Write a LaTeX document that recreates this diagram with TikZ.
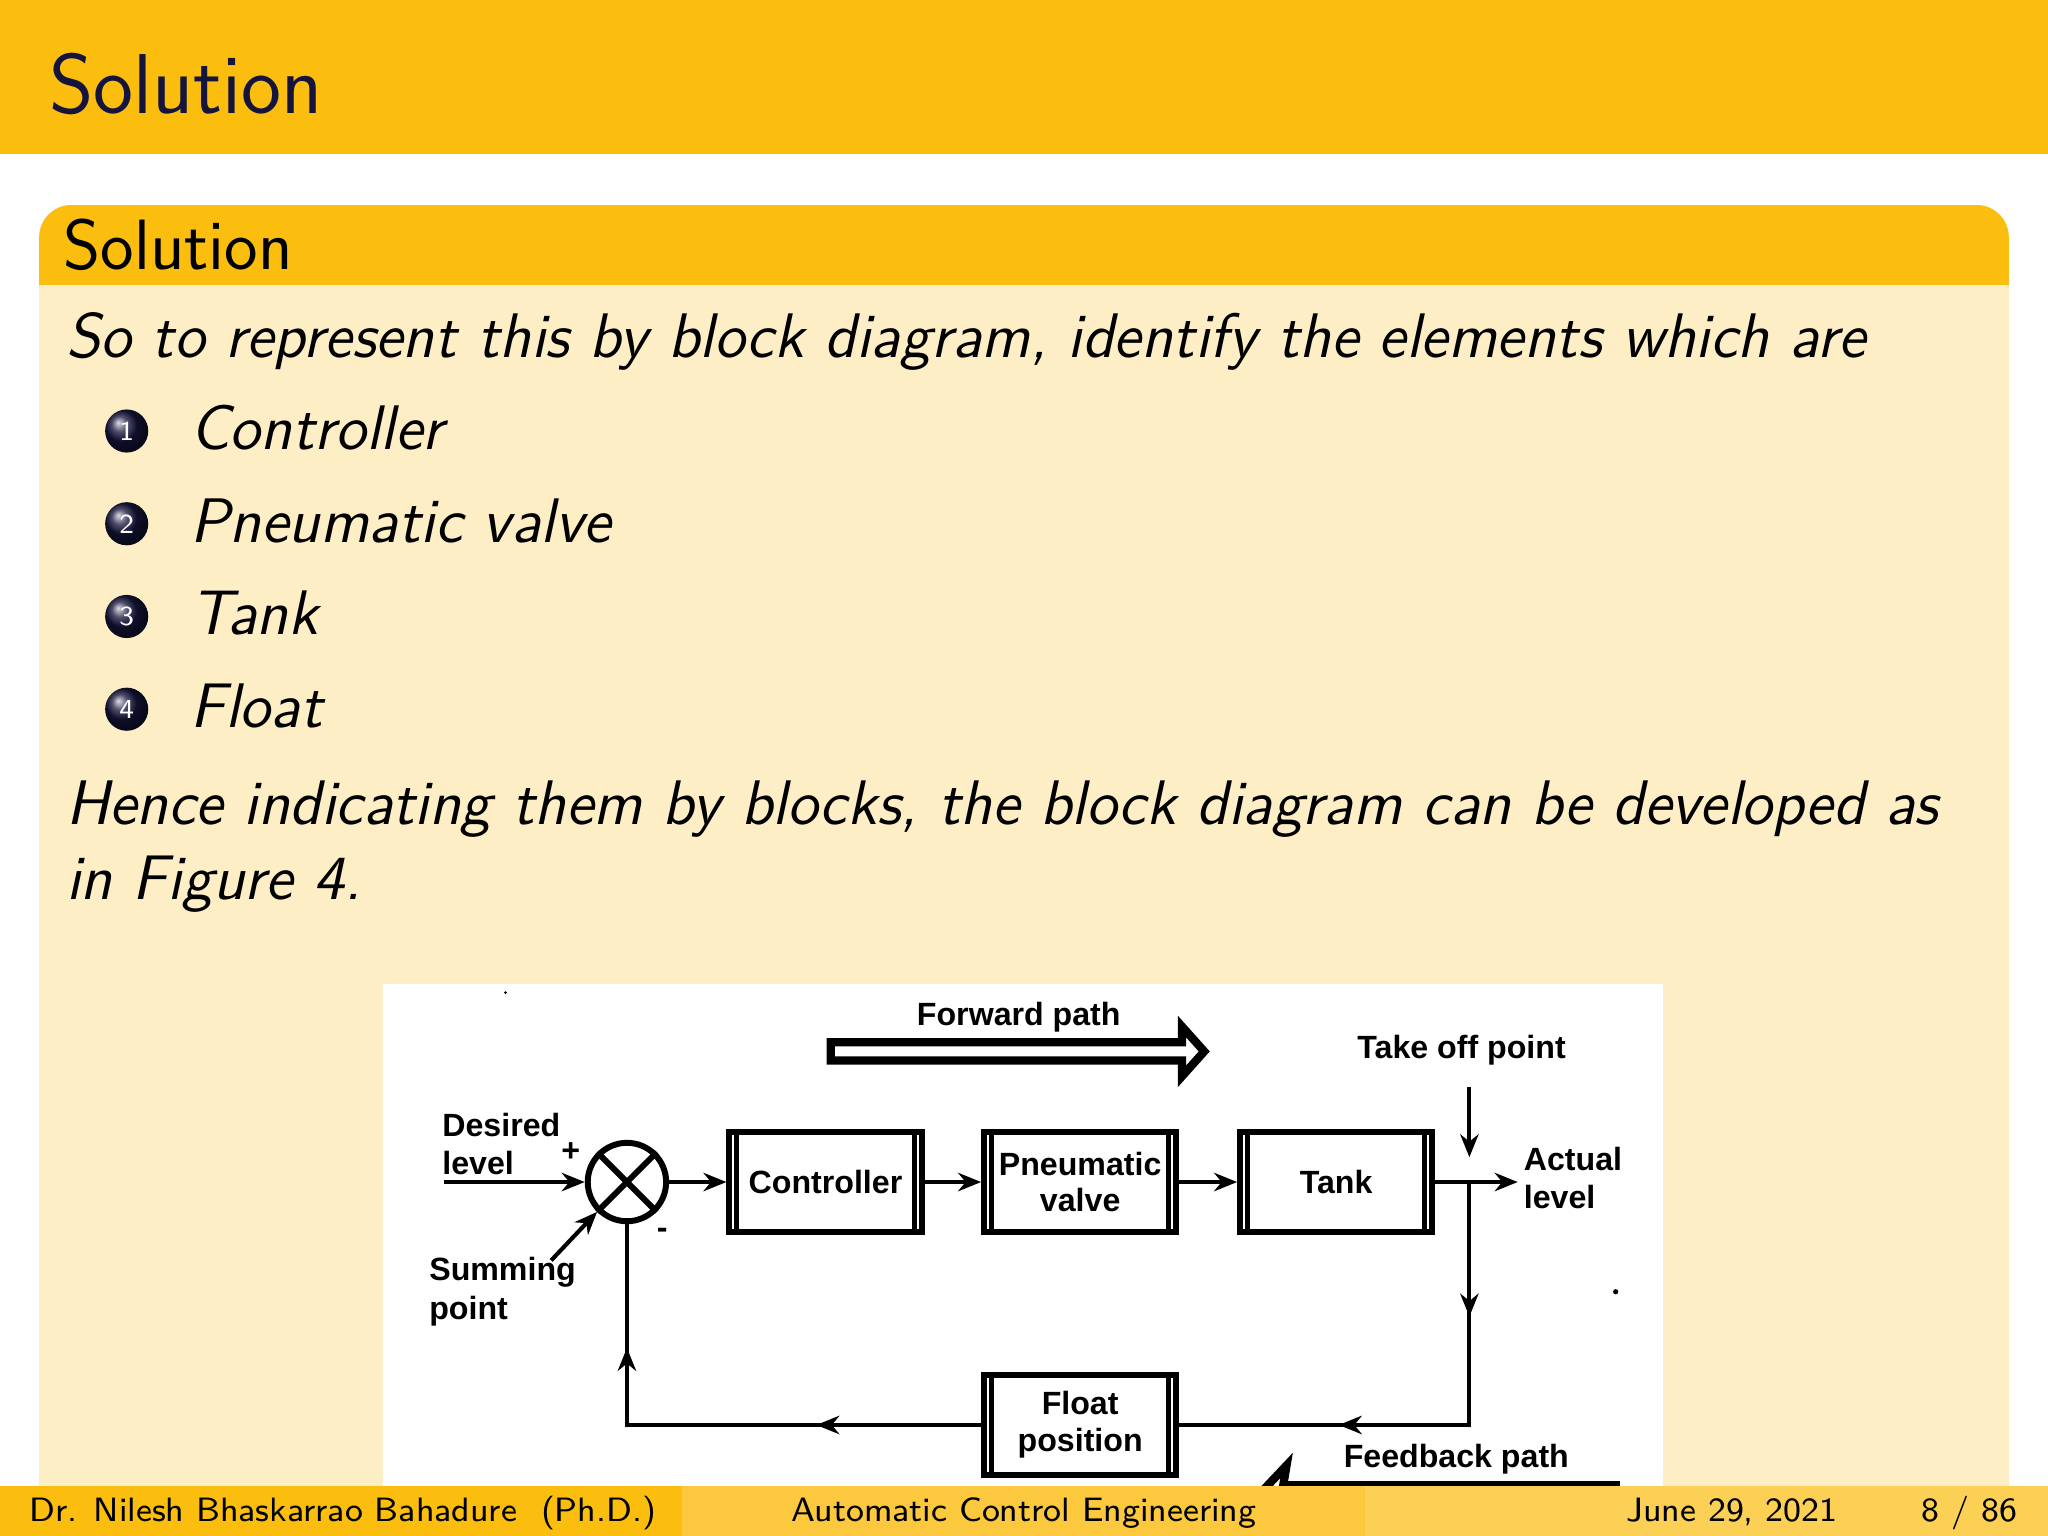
\documentclass[tikz,border=0pt]{standalone}
\usepackage{fontspec}
\newfontfamily\arial{Liberation Sans}
\usetikzlibrary{arrows.meta,shapes.geometric}
\definecolor{hdr}{RGB}{251,190,14}
\definecolor{bodyc}{RGB}{253,238,198}
\definecolor{footm}{RGB}{252,200,62}
\definecolor{footr}{RGB}{252,207,85}
\definecolor{navy}{RGB}{20,20,60}
\tikzset{
 blk/.style={draw,line width=1.3pt,minimum width=1.47cm,minimum height=0.77cm,inner sep=0pt,font=\arial\bfseries\fontsize{7}{8}\selectfont,align=center},
 lbl/.style={font=\arial\bfseries\fontsize{7}{8.4}\selectfont,align=left,inner sep=0pt},
 ln/.style={line width=0.9pt},
 arr/.style={ln,-{Stealth[length=5pt,width=4pt]}},
 bul/.style={circle,ball color=navy,minimum size=0.33cm,inner sep=0pt,text=white,font=\sffamily\fontsize{6}{6}\selectfont},
 itm/.style={anchor=base west,font=\sffamily\itshape\fontsize{13.7}{13.7}\selectfont,inner sep=0pt},
 ft/.style={font=\sffamily\fontsize{7.35}{7.35}\selectfont,inner sep=0pt}
}
\begin{document}
\begin{tikzpicture}[x=0.01cm,y=-0.01cm]
\useasboundingbox (0,0) rectangle (1568,1176);
\fill[white] (0,0) rectangle (1568,1176);
\fill[hdr] (0,0) rectangle (1568,118);
\node[anchor=base west,inner sep=0pt,font=\sffamily\fontsize{18.5}{18.5}\selectfont,text=navy] (title) at (37,87) {Solution};
% block
\fill[bodyc,rounded corners=7] (30,157) rectangle (1538,1200);
\fill[hdr,rounded corners=7] (30,157) rectangle (1538,230);
\fill[hdr] (30,200) rectangle (1538,218);
\fill[bodyc] (30,218) rectangle (1538,240);
\node[anchor=base west,inner sep=0pt,font=\sffamily\fontsize{15.5}{15.5}\selectfont,text=black] (btitle) at (48,206) {Solution};
\node[itm] (t1) at (50,274) {So to represent this by block diagram, identify the elements which are};
\foreach \i/\yy/\tt in {1/330/Controller,2/401/Pneumatic valve,3/472/Tank,4/543/Float}{
 \node[bul] (b\i) at (97,\yy) {\i};
 \node[itm] (i\i) at (145,\yy+14) {\tt};
}
\node[itm] (t2) at (50,631) {Hence indicating them by blocks, the block diagram can be developed as};
\node[itm] (t3) at (50,689) {in Figure 4.};
% diagram
\fill[white] (293,753) rectangle (1273,1140);
\begin{scope}
\clip (293,753) rectangle (1273,1138);
\node[circle,draw,line width=1.3pt,minimum size=0.6cm,inner sep=0pt] (sum) at (480,905) {};
\draw[line width=1.3pt] (sum.north west)--(sum.south east) (sum.north east)--(sum.south west);
\node[blk] (ctrl) at (632,905) {Controller};
\node[blk] (valve) at (827,905) {Pneumatic\\valve};
\node[blk] (tank) at (1023,905) {Tank};
\node[blk] (float) at (827,1091) {Float\\position};
\foreach \n in {ctrl,valve,tank,float}{
 \draw[line width=1.1pt] ([xshift=0.08cm]\n.north west)--([xshift=0.08cm]\n.south west);
 \draw[line width=1.1pt] ([xshift=-0.08cm]\n.north east)--([xshift=-0.08cm]\n.south east);
}
\coordinate (in) at (340,905);
\coordinate (to) at (1125,905);
\coordinate (out) at (1162,905);
\coordinate (tor) at (1125,1091);
\coordinate (fl) at (480,1091);
\draw[arr] (in)--(sum);
\draw[arr] (sum)--(ctrl);
\draw[arr] (ctrl)--(valve);
\draw[arr] (valve)--(tank);
\draw[arr] (tank)--(out);
\draw[ln] (to)--(tor)--(float);
\draw[ln] (float)--(fl)--(sum);
\draw[arr] (to)--(1125,1008);
\draw[arr] (tor)--(1025,1091);
\draw[arr] (float.west)--(625,1091);
\draw[arr] (fl)--(480,1032);
\coordinate (tk) at (1125,832);
\draw[arr] (tk)--(1125,886);
\node[lbl,anchor=south] (tkl) at (1119,816) {Take off point};
\node[lbl,anchor=west] (des) at (338,876) {Desired\\level};
\node[lbl,anchor=west] (sp) at (328,989) {Summing\\point};
\coordinate (spa) at (422,965);
\draw[arr] (spa)--(sum.south west);
\node[lbl,anchor=west] (act) at (1166,902) {Actual\\level};
\node[lbl] (plus) at (437,882) {+};
\node[lbl] (minus) at (507,944) {-};
% forward path arrow
\draw[line width=1.8pt,line join=miter] (636,798)--(905,798)--(905,786)--(922,805)--(905,824)--(905,812)--(636,812)--cycle;
\node[lbl,anchor=south] (fp) at (780,791) {Forward path};
\node[lbl,anchor=south] (fbp) at (1115,1129) {Feedback path};
\draw[line width=1.8pt] (980,1137)--(1240,1137);
\draw[line width=1.8pt] (968,1140)--(985,1122)--(982,1140);
\fill (1237,989) circle (2);
\fill (387,760) circle (1.2);
\end{scope}
% footer
\fill[hdr] (0,1138) rectangle (522,1176);
\fill[footm] (522,1138) rectangle (1045,1176);
\fill[footr] (1045,1138) rectangle (1568,1176);
\node[ft,anchor=base west] (f1) at (22,1165) {Dr. Nilesh Bhaskarrao Bahadure\ \ (Ph.D.)};
\node[ft,anchor=base] (f2) at (784,1165) {Automatic Control Engineering};
\node[ft,anchor=base] (f3) at (1326,1165) {June 29, 2021};
\node[ft,anchor=base] (f4) at (1508,1165) {8 / 86};
\end{tikzpicture}
\end{document}
